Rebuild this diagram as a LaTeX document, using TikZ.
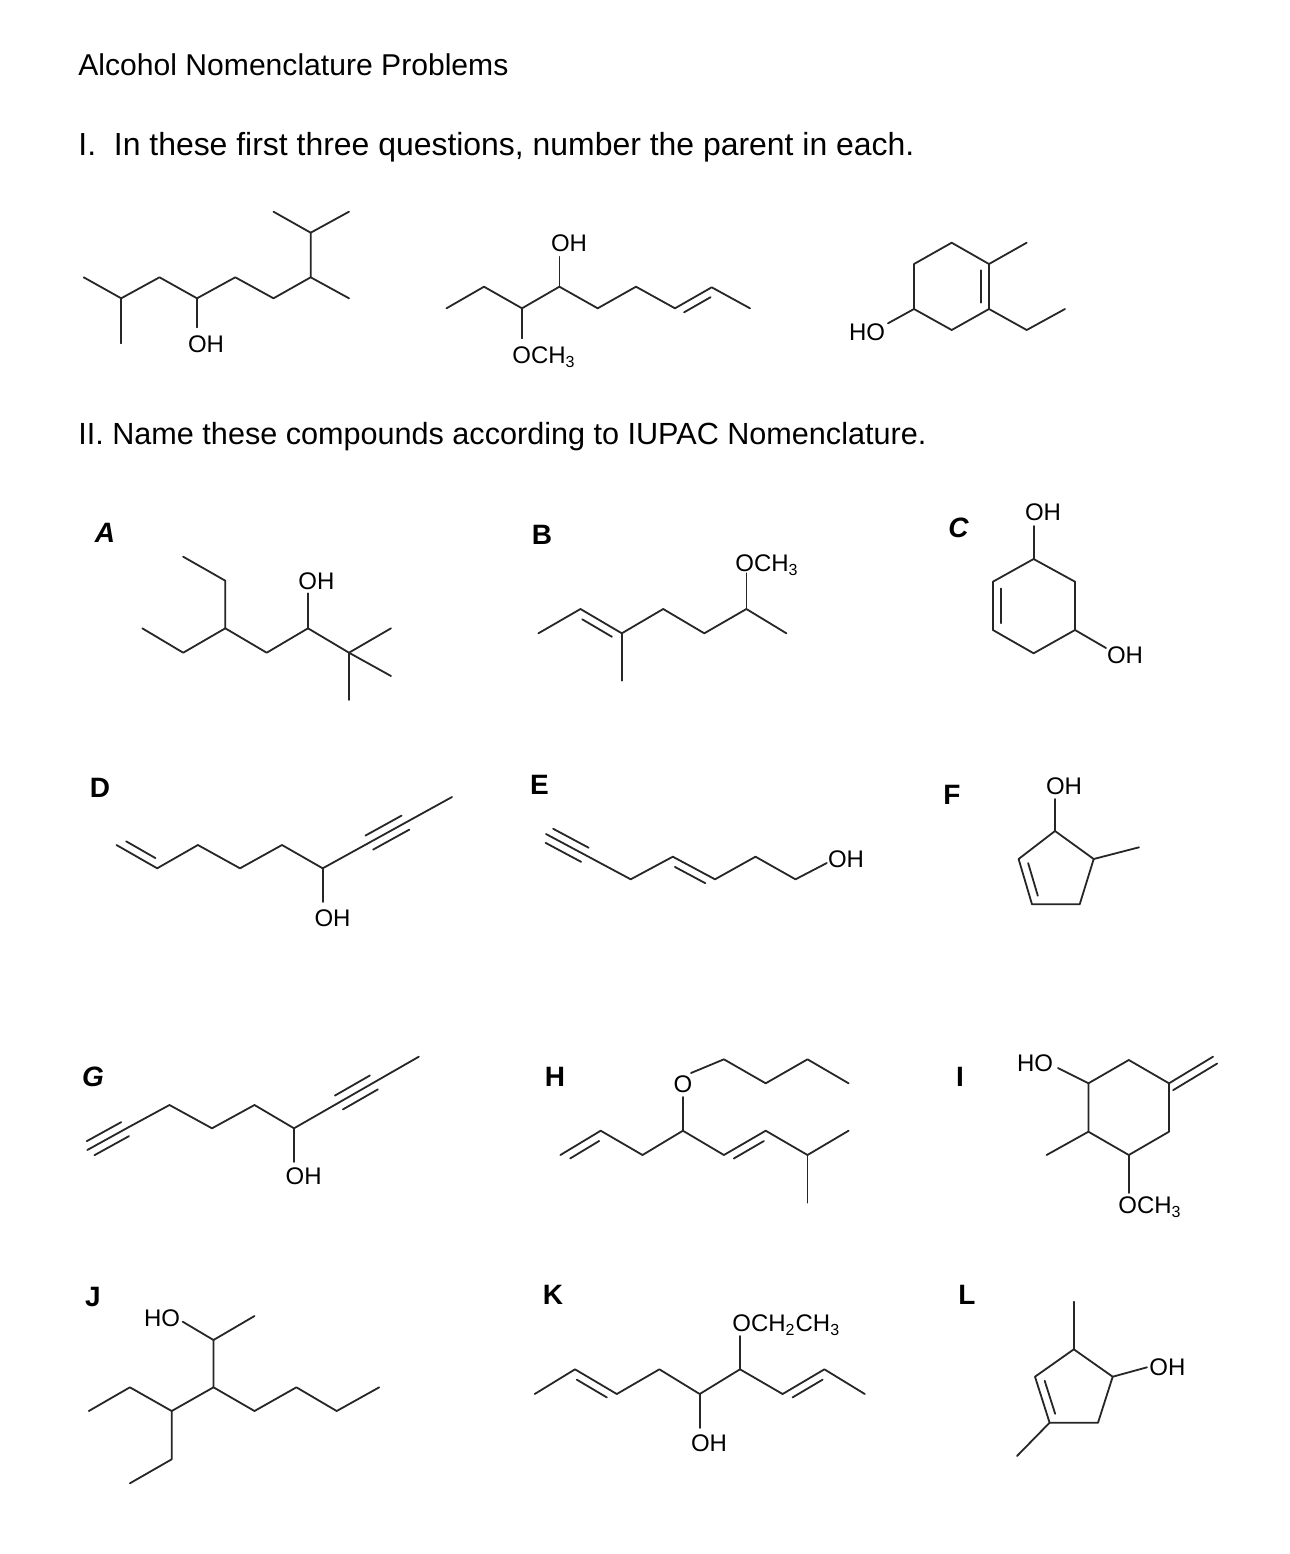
\documentclass[tikz,border=0pt]{standalone}
\usepackage{fontspec}
\setmainfont{Liberation Sans}
\usetikzlibrary{calc}
\tikzset{
  bond/.style={line width=0.9pt, line cap=round, line join=round, black!85},
  lab/.style={inner sep=0pt, font=\fontsize{12}{12}\selectfont},
  qlab/.style={inner sep=0pt, font=\fontsize{14}{14}\selectfont\bfseries},
  head/.style={inner sep=0pt, anchor=west}
}
\newcommand\dbl[3]{\draw[bond] ($(#1)!.14!(#2)!4pt!#3:(#2)$) -- ($(#2)!.14!(#1)!4pt!-#3:(#1)$);}
\newcommand\exo[3]{\draw[bond] ($(#1)!4pt!#3:(#2)$) -- ($(#2)!4pt!-#3:(#1)$);}
\newcommand\trp[2]{\draw[bond] ($(#1)!.08!(#2)!4pt!90:(#2)$) -- ($(#2)!.08!(#1)!4pt!-90:(#1)$);
  \draw[bond] ($(#1)!.08!(#2)!4pt!-90:(#2)$) -- ($(#2)!.08!(#1)!4pt!90:(#1)$);}
\begin{document}
\begin{tikzpicture}[x=0.5pt,y=-0.5pt]
\useasboundingbox (0,0) rectangle (1290,1554);
\fill[white] (0,0) rectangle (1290,1554);
% headings
\node[head] (t0) at (78,65) {\resizebox{215pt}{!}{\fontsize{15}{15}\selectfont Alcohol Nomenclature Problems}};
\node[head] (t1) at (78,147) {\resizebox{418pt}{!}{\fontsize{15}{15}\selectfont I.\ \ In these first three questions, number the parent in each.}};
\node[head] (t2) at (78,437) {\resizebox{424pt}{!}{\fontsize{15}{15}\selectfont II. Name these compounds according to IUPAC Nomenclature.}};
% ---------- structure 1
\draw[bond] (83.7,277.3) -- (121.2,298.3) -- (159.5,277.3) -- (197,298.3) -- (235.3,277.3) -- (273.5,298.3) -- (310.7,277.3) -- (349,298.3);
\draw[bond] (121.2,298.3) -- (121.2,343.3);
\draw[bond] (197,298.3) -- (197,327.3);
\node[lab] (s1oh) at (206,344) {OH};
\draw[bond] (310.7,277.3) -- (310.7,232.7) -- (273.5,211.7);
\draw[bond] (310.7,232.7) -- (349,211.7);
% ---------- structure 2
\coordinate (s2a) at (675,308.3); \coordinate (s2b) at (711.7,287.3);
\draw[bond] (446.5,308.3) -- (484,286.7) -- (522,308.3) -- (559.4,286.7) -- (597.7,308.3) -- (636,286.7) -- (s2a) -- (s2b) -- (750,308.3);
\dbl{s2a}{s2b}{-90}
\draw[bond] (522,308.3) -- (522,338.3);
\node[lab] (s2o) at (544,357) {OCH\textsubscript{3}};
\draw[bond] (559.4,286.7) -- (559.4,256.7);
\node[lab] (s2h) at (569,243) {OH};
% ---------- structure 3
\coordinate (r1) at (914,264); \coordinate (r2) at (951.7,242.7); \coordinate (r3) at (989,264);
\coordinate (r4) at (989,309); \coordinate (r5) at (951.7,330); \coordinate (r6) at (914,309);
\draw[bond] (r1) -- (r2) -- (r3) -- (r4) -- (r5) -- (r6) -- cycle;
\dbl{r3}{r4}{-90}
\draw[bond] (r3) -- (1026.7,242.7);
\draw[bond] (r4) -- (1026.7,330) -- (1065,309);
\draw[bond] (r6) -- (888,323.3);
\node[lab] (s3ho) at (867,332) {HO};
% ---------- A
\node[qlab] (LA) at (105,533) {\itshape A};
\draw[bond] (142.3,628.3) -- (183.2,652.7) -- (225.3,628.3) -- (266.7,652.7) -- (308,628.3) -- (349,652.7) -- (391,628.3);
\draw[bond] (225.3,628.3) -- (225.3,580.7) -- (183.2,556.7);
\draw[bond] (308,628.3) -- (308,593.3);
\node[lab] (Aoh) at (316.4,581.7) {OH};
\draw[bond] (349,652.7) -- (391,676);
\draw[bond] (349,652.7) -- (349,700);
% ---------- B
\node[qlab] (LB) at (542,535) {B};
\coordinate (b1) at (580.5,609); \coordinate (b2) at (621.8,633.3);
\draw[bond] (538.4,633.3) -- (b1) -- (b2) -- (663.2,609) -- (704.3,633.3) -- (746.4,609) -- (786.4,633.3);
\dbl{b1}{b2}{-90}
\draw[bond] (b2) -- (621.8,680.7);
\draw[bond] (746.4,609) -- (746.4,573.3);
\node[lab] (Bo) at (767,565) {OCH\textsubscript{3}};
% ---------- C
\node[qlab] (LC) at (958.6,528) {\itshape C};
\coordinate (c1) at (1033.6,559); \coordinate (c2) at (1075,581.7); \coordinate (c3) at (1075,630);
\coordinate (c4) at (1033.6,653.3); \coordinate (c5) at (992.9,630); \coordinate (c6) at (992.9,581.7);
\draw[bond] (c1) -- (c2) -- (c3) -- (c4) -- (c5) -- (c6) -- cycle;
\dbl{c6}{c5}{90}
\draw[bond] (c1) -- (1033.6,526);
\node[lab] (Coh1) at (1043,512.7) {OH};
\draw[bond] (c3) -- (1106,648);
\node[lab] (Coh2) at (1125,655) {OH};
% ---------- D
\node[qlab] (LD) at (100,788) {D};
\coordinate (d0) at (116.5,845); \coordinate (d1) at (157.2,868.3);
\coordinate (d5) at (322.7,868.3); \coordinate (d6) at (365.8,844.5); \coordinate (d7) at (408.9,820.7);
\draw[bond] (d0) -- (d1) -- (197.9,845) -- (240,868.3) -- (282,845) -- (d5) -- (452,797);
\dbl{d0}{d1}{90}
\trp{d6}{d7}
\draw[bond] (d5) -- (322.7,902);
\node[lab] (Doh) at (332.5,918) {OH};
% ---------- E
\node[qlab] (LE) at (539.5,785) {E};
\coordinate (e0) at (546,834); \coordinate (e1) at (588.3,856.6);
\coordinate (e3) at (672.8,856.7); \coordinate (e4) at (715,879.3);
\draw[bond] (e0) -- (e1) -- (630.7,879.3) -- (e3) -- (e4) -- (755.5,856.7) -- (795.5,879.3) -- (826.8,863);
\trp{e0}{e1}
\dbl{e3}{e4}{-90}
\node[lab] (Eoh) at (846,859) {OH};
% ---------- F
\node[qlab] (LF) at (951.9,795) {F};
\coordinate (f1) at (1055,831); \coordinate (f2) at (1093.7,859); \coordinate (f3) at (1079.7,904.3);
\coordinate (f4) at (1032,904.3); \coordinate (f5) at (1018.6,859);
\draw[bond] (f1) -- (f2) -- (f3) -- (f4) -- (f5) -- cycle;
\dbl{f5}{f4}{90}
\draw[bond] (f2) -- (1139,847.3);
\draw[bond] (f1) -- (1055,799);
\node[lab] (Foh) at (1064,786) {OH};
% ---------- G
\node[qlab] (LG) at (93,1076.7) {\itshape G};
\coordinate (g0) at (87.3,1150); \coordinate (g1) at (128.4,1127.3);
\coordinate (g5) at (294,1128.3); \coordinate (g6) at (335.6,1104.4); \coordinate (g7) at (377.2,1080.5);
\draw[bond] (g0) -- (g1) -- (169.5,1105) -- (212,1128.3) -- (254.5,1105) -- (g5) -- (418.8,1056.7);
\trp{g0}{g1}
\trp{g6}{g7}
\draw[bond] (g5) -- (294,1162);
\node[lab] (Goh) at (303.7,1176.7) {OH};
% ---------- H
\node[qlab] (LH) at (555,1076.7) {H};
\coordinate (h0) at (560.4,1155); \coordinate (h1) at (600.7,1130.7);
\coordinate (h4) at (723.9,1155); \coordinate (h5) at (765.7,1130.7);
\draw[bond] (h0) -- (h1) -- (642.5,1155) -- (682.9,1130.7) -- (h4) -- (h5) -- (807.5,1155) -- (848.6,1130.7);
\dbl{h0}{h1}{-90}
\dbl{h4}{h5}{-90}
\draw[bond] (807.5,1155) -- (807.5,1202.7);
\draw[bond] (682.9,1130.7) -- (682.9,1097);
\node[lab] (Ho) at (682.9,1084) {O};
\draw[bond] (691,1073) -- (723.9,1059.3) -- (765.7,1083.3) -- (807.5,1059.3) -- (848.6,1083.3);
% ---------- I
\node[qlab] (LI) at (960,1076.7) {I};
\coordinate (i1) at (1088.4,1083.3); \coordinate (i2) at (1128.8,1060); \coordinate (i3) at (1169,1083.3);
\coordinate (i4) at (1169,1131.7); \coordinate (i5) at (1128.8,1155); \coordinate (i6) at (1088.4,1131.7);
\coordinate (i7) at (1213,1056.7);
\draw[bond] (i1) -- (i2) -- (i3) -- (i4) -- (i5) -- (i6) -- cycle;
\draw[bond] (i3) -- (i7);
\exo{i3}{i7}{-90}
\draw[bond] (i1) -- (1058,1068);
\node[lab] (Iho) at (1035,1063) {HO};
\draw[bond] (i6) -- (1046.6,1155);
\draw[bond] (i5) -- (1128.8,1193);
\node[lab] (Io) at (1150,1207) {OCH\textsubscript{3}};
% ---------- J
\node[qlab] (LJ) at (93,1296.7) {J};
\node[lab] (Jho) at (162,1318) {HO};
\draw[bond] (182.7,1321.7) -- (213.5,1340) -- (254.5,1316);
\draw[bond] (213.5,1340) -- (213.5,1387.3) -- (254.5,1411) -- (296.4,1387.3) -- (336.7,1411) -- (379.2,1387.3);
\draw[bond] (213.5,1387.3) -- (171.7,1411) -- (129.9,1387.3) -- (88.8,1411);
\draw[bond] (171.7,1411) -- (171.7,1459.3) -- (129.9,1483.3);
% ---------- K
\node[qlab] (LK) at (553,1295) {K};
\coordinate (k1) at (575,1369.3); \coordinate (k2) at (616.8,1394);
\coordinate (k6) at (782.6,1394); \coordinate (k7) at (824.4,1369.3);
\draw[bond] (534.7,1394) -- (k1) -- (k2) -- (659.4,1369.3) -- (699.7,1394) -- (740,1369.3) -- (k6) -- (k7) -- (864.8,1394);
\dbl{k1}{k2}{-90}
\dbl{k6}{k7}{-90}
\draw[bond] (699.7,1394) -- (699.7,1428);
\node[lab] (Koh) at (709,1443) {OH};
\draw[bond] (740,1369.3) -- (740,1336);
\node[lab,anchor=west] (Ko) at (732,1325) {OCH\textsubscript{2}CH\textsubscript{3}};
% ---------- L
\node[qlab] (LL) at (967,1295) {L};
\coordinate (l1) at (1073.8,1349.3); \coordinate (l2) at (1112.7,1376.7); \coordinate (l3) at (1098,1422.7);
\coordinate (l4) at (1049.6,1422.7); \coordinate (l5) at (1035,1376.7);
\draw[bond] (l1) -- (l2) -- (l3) -- (l4) -- (l5) -- cycle;
\dbl{l5}{l4}{90}
\draw[bond] (l1) -- (1073.8,1301.7);
\draw[bond] (l2) -- (1147,1367.3);
\node[lab,anchor=west] (Loh) at (1149,1367) {OH};
\draw[bond] (l4) -- (1017,1456);
\end{tikzpicture}
\end{document}
